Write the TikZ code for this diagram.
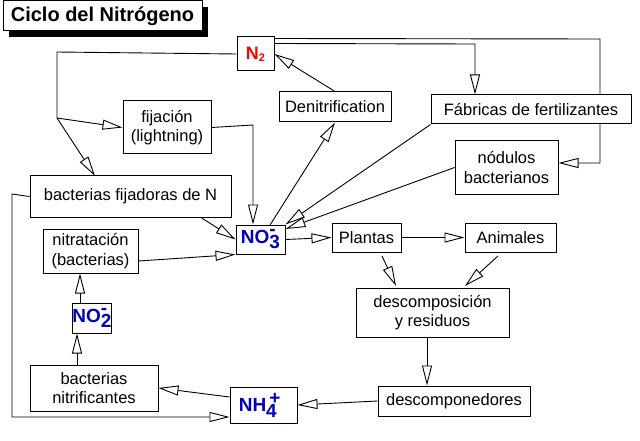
\documentclass[tikz,border=0pt]{standalone}
\usepackage{fontspec}
\setmainfont{Liberation Sans}
\usetikzlibrary{arrows.meta,calc}
\pgfdeclarelayer{bg}\pgfsetlayers{bg,main}
\newcommand{\chemion}[3]{#1\rlap{\raisebox{0.75ex}{#3}}\raisebox{-0.55ex}{#2}}
\begin{document}
\begin{tikzpicture}[x=1pt,y=-1pt,
  box/.style={draw,fill=white,line width=1pt,inner sep=0pt,align=center,font=\fontsize{16.5}{19.5}\selectfont},
  chem/.style={box,font=\bfseries\fontsize{19}{21}\selectfont,text=blue!75!black},
  arr/.style={-{Triangle[open,length=20pt,width=10pt]},line width=0.9pt},
  ln/.style={line width=0.9pt}]
\useasboundingbox (0,0) rectangle (640,441);
% title
\fill (9,7) rectangle (208,37);
\node[box,font=\bfseries\fontsize{20}{22}\selectfont,minimum width=199pt,minimum height=30pt] (title) at (102.5,16) {Ciclo del Nitrógeno};
\node[box,minimum width=37pt,minimum height=34pt,text=red,font=\bfseries\fontsize{18}{20}\selectfont] (n2) at (255.5,54) {N\raisebox{-0.2ex}{\fontsize{11}{11}\selectfont 2}};
\node[box,minimum width=88pt,minimum height=53pt] (fij) at (167,127.5) {fijación\\(lightning)};
\node[box,minimum width=112pt,minimum height=30pt] (den) at (335,107) {Denitrification};
\node[box,minimum width=200pt,minimum height=29pt] (fab) at (531,109.5) {Fábricas de fertilizantes};
\node[box,minimum width=103pt,minimum height=53pt] (nod) at (506.5,167.5) {nódulos\\bacterianos};
\node[box,minimum width=201pt,minimum height=41pt] (bfn) at (130.5,196.5) {bacterias fijadoras de N};
\node[chem,minimum width=49pt,minimum height=29pt] (no3) at (260.5,239.5) {\chemion{NO}{3}{-}};
\node[box,minimum width=69pt,minimum height=29pt] (pla) at (366.5,237.5) {Plantas};
\node[box,minimum width=91pt,minimum height=29pt] (ani) at (510.5,237.5) {Animales};
\node[box,minimum width=95pt,minimum height=44pt] (nit) at (90.5,251) {nitratación\\(bacterias)};
\node[box,minimum width=153pt,minimum height=49pt] (des) at (432.5,312.5) {descomposición\\y residuos};
\node[chem,minimum width=34pt,minimum height=30pt] (no2) at (92,318) {\chemion{NO}{2}{-}};
\node[box,minimum width=128pt,minimum height=46pt] (bni) at (94,388) {bacterias\\nitrificantes};
\node[chem,minimum width=67pt,minimum height=36pt] (nh4) at (263.5,405) {\chemion{NH}{4}{\,+}\hspace{0.6em}};
\node[box,minimum width=152pt,minimum height=30pt] (dco) at (454,401) {descomponedores};
\coordinate (br) at (57,118);
\begin{pgfonlayer}{bg}
\draw[ln] (n2.west) -- (57,52) -- (br);
\draw[arr] (br) -- (fij.west);
\draw[arr] (br) -- (95,176);
\draw[arr] (fij.east) -- (253,125) -- (no3.north -| 253,0);
\draw[arr] (197,215) -- (no3.west);
\draw[arr] (nit.east) ++(0,10) -- (no3.south west);
\draw[arr] (270,225) -- (den.south);
\draw[arr] (den.north) -- (n2.east);
\draw[arr] (n2.north east) ++(0,2) -- (600,39) -- (600,163) -- (nod.east |- 0,163);
\draw[arr] (n2.north east) ++(0,7) -- (475,44) -- (fab.north -| 475,0);
\draw[arr] (fab.south west) -- (no3.north east);
\draw[arr] (nod.west) -- ($(no3.north east)!0.3!(no3.east)$);
\draw[arr] (no3.east) -- (pla.west);
\draw[arr] (pla.east) -- (ani.west);
\draw[arr] (382,256) -- (396,286);
\draw[arr] (498,256) -- (465,286);
\draw[arr] (des.south -| 427,0) -- (dco.north -| 427,0);
\draw[arr] (dco.west) -- (nh4.east);
\draw[arr] (nh4.west) ++(0,-8) -- (bni.east);
\draw[arr] (bni.north -| 77,0) -- (no2.south -| 77,0);
\draw[arr] (no2.north -| 80,0) -- (nit.south -| 80,0);
\draw[arr] (bfn.west) -- (12,194) -- (12,417) -- (nh4.west |- 0,417);
\end{pgfonlayer}
\end{tikzpicture}
\end{document}
